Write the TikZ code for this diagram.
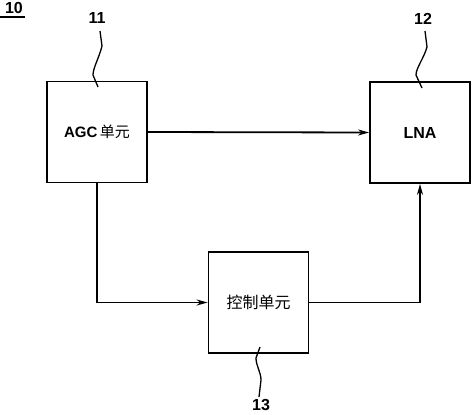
\documentclass[tikz,border=0pt]{standalone}
\usepackage{fontspec}
\setmainfont{Liberation Sans}
\newfontfamily\cjk{Noto Sans CJK SC}
\usetikzlibrary{arrows.meta}
\begin{document}
\begin{tikzpicture}[x=1pt,y=-1pt,
  blk/.style={draw,line width=1.8pt,minimum width=100pt,minimum height=101pt,inner sep=0pt},
  conn/.style={line width=1.8pt},
  arr/.style={conn,-{Stealth[length=11pt,width=6pt]}},
  lead/.style={line width=1.3pt},
  lbl/.style={font=\fontsize{16}{16}\selectfont\bfseries,inner sep=0pt}]
\useasboundingbox (0,0) rectangle (474,415);
\node[blk] (agc) at (97,132) {\fontsize{15}{15}\selectfont\textbf{AGC}\,{\cjk 单元}};
\node[blk] (lna) at (420,132.5) {\fontsize{16}{16}\selectfont\textbf{LNA}};
\node[blk] (ctl) at (258.5,302.5) {\fontsize{16}{16}\selectfont\cjk 控制单元};
\node[lbl] (n10) at (14,8) {10};
\draw[line width=1.4pt] (0,17) -- (25,17);
\node[lbl] (n11) at (97,18) {11};
\node[lbl] (n12) at (423,19) {12};
\node[lbl] (n13) at (261,405) {13};
\draw[arr] (agc.east) -- (lna.west);
\draw[arr] (agc.south) |- (ctl.west);
\draw[arr] (ctl.east) -| (lna.south);
\draw[lead] (100,31) -- (102,46) .. controls (99,58) and (93,68) .. (93,75) -- (98,87);
\draw[lead] (425,31) -- (427,47) .. controls (424,58) and (416,68) .. (416,75) -- (422,88);
\draw[lead] (260,347) -- (256,358) .. controls (256,366) and (261,372) .. (261,380) -- (259,397);
\end{tikzpicture}
\end{document}
